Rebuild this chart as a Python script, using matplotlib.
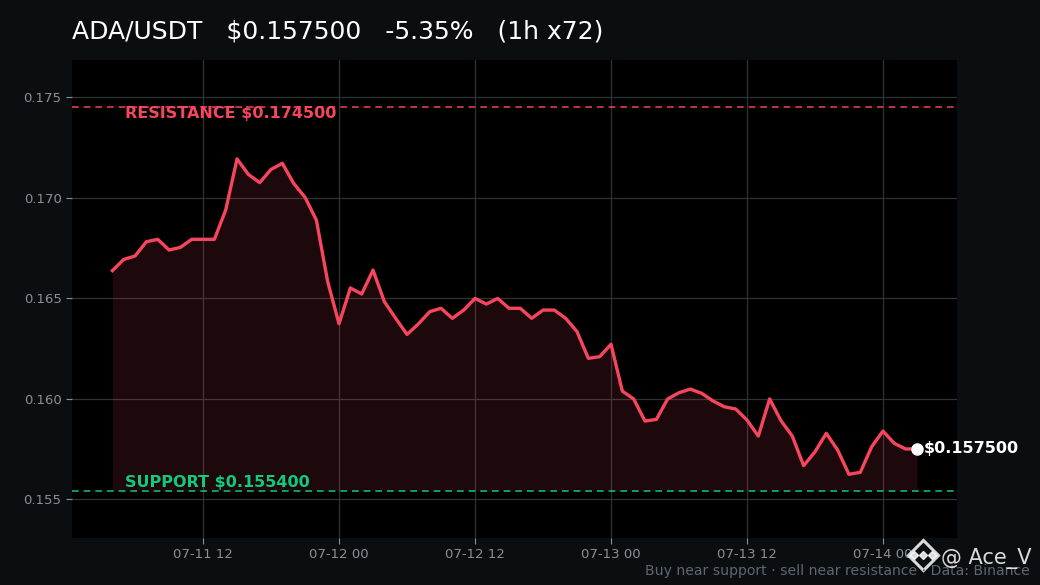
import matplotlib
matplotlib.use("Agg")
import matplotlib.pyplot as plt
import matplotlib.dates as mdates
import matplotlib.transforms as mtransforms
import pandas as pd

#--- data

symbol = 'ADA/USDT'
interval = '1h'
start = '2025-07-11 04:00'
prices = [
    0.16636, 0.16692, 0.16709, 0.16780, 0.16792, 0.16739, 0.16752, 0.16792,
    0.16792, 0.16792, 0.16938, 0.17192, 0.17115, 0.17074, 0.17140, 0.17170,
    0.17070, 0.17001, 0.16888, 0.16581, 0.16372, 0.16550, 0.16520, 0.16639,
    0.16482, 0.16399, 0.16319, 0.16371, 0.16432, 0.16449, 0.16399, 0.16440,
    0.16498, 0.16470, 0.16498, 0.16449, 0.16449, 0.16399, 0.16440, 0.16440,
    0.16399, 0.16333, 0.16200, 0.16208, 0.16270, 0.16037, 0.15998, 0.15888,
    0.15896, 0.15998, 0.16029, 0.16047, 0.16026, 0.15988, 0.15959, 0.15948,
    0.15893, 0.15813, 0.15998, 0.15890, 0.15813, 0.15666, 0.15735, 0.15827,
    0.15744, 0.15623, 0.15633, 0.15760, 0.15838, 0.15777, 0.15749, 0.15750,
]
resistance = 0.1745
support = 0.1554
last_price = 0.1575
change_pct = -5.35
footer = 'Buy near support · sell near resistance · Data: Binance'
watermark = '@ Ace_V'

#--- style

BG = '#0b0e11'
RED = '#f6465d'
GREEN = '#0ecb81'
GRID = '#2f3336'
TICK = '#8a8f98'

times = pd.date_range( start, periods=len(prices), freq='h' )

fig = plt.figure( figsize=(10.4, 5.85), dpi=100, facecolor=BG )
ax = fig.add_axes( [0.0692, 0.0803, 0.8510, 0.8171] )
ax.set_facecolor( '#000000' )

ax.fill_between( times, prices, support, color=RED, alpha=0.12, linewidth=0 )
ax.plot( times, prices, color=RED, linewidth=2.4, solid_joinstyle='round', zorder=3 )

ax.axhline( resistance, color=RED, linestyle=(0, (4, 3)), linewidth=1.2, alpha=0.9 )
ax.axhline( support, color=GREEN, linestyle=(0, (4, 3)), linewidth=1.2, alpha=0.9 )

trans = mtransforms.blended_transform_factory( ax.transAxes, ax.transData )
ax.text( 0.06, resistance + 0.00006, f'RESISTANCE ${resistance:.6f}', transform=trans,
         color=RED, fontsize=11.5, fontweight='bold', va='top', ha='left' )
ax.text( 0.06, support + 0.00006, f'SUPPORT ${support:.6f}', transform=trans,
         color=GREEN, fontsize=11.5, fontweight='bold', va='bottom', ha='left' )

# last price marker
ax.plot( times[-1], prices[-1], 'o', color='white', markersize=8, zorder=4 )
ax.annotate( f'${last_price:.6f}', ( times[-1], prices[-1] ), xytext=(5, 0),
             textcoords='offset points', color='white', fontsize=11.5,
             fontweight='bold', va='center', ha='left', zorder=5 )

ax.set_xlim( pd.Timestamp('2025-07-11 00:26'), pd.Timestamp('2025-07-14 06:32') )
ax.set_ylim( 0.15306, 0.17684 )
ax.yaxis.set_major_locator( plt.MultipleLocator( 0.005 ) )
ax.yaxis.set_major_formatter( plt.FormatStrFormatter( '%.3f' ) )
ax.xaxis.set_major_locator( mdates.HourLocator( byhour=[0, 12] ) )
ax.xaxis.set_major_formatter( mdates.DateFormatter( '%m-%d %H' ) )

ax.grid( True, color=GRID, linewidth=0.9 )
ax.set_axisbelow( True )
for s in ax.spines.values():
    s.set_visible( False )
ax.tick_params( colors=TICK, labelsize=9.5, length=4, width=0.8 )

fig.text( 0.0692, 0.947, f'{symbol}   ${last_price:.6f}   {change_pct:.2f}%   ({interval} x{len(prices)})',
          color='white', fontsize=18, ha='left', va='center' )

fig.text( 0.990, 0.024, footer, color='#5e6673', fontsize=10.1, ha='right', va='center' )

# watermark with a rough Binance mark
fig.text( 0.905, 0.046, watermark, color='white', alpha=0.85, fontsize=15, ha='left', va='center' )
wx, wy = 0.8875, 0.052
fig.lines.append( plt.Line2D( [wx], [wy], marker='D', markersize=15, markerfacecolor='none',
                              markeredgecolor='white', markeredgewidth=2.2, alpha=0.85,
                              transform=fig.transFigure ) )
for dx, dy in [ (0, 0), (-0.009, 0), (0.009, 0) ]:
    fig.lines.append( plt.Line2D( [wx + dx], [wy + dy], marker='D', markersize=4.5, color='white',
                                  alpha=0.85, transform=fig.transFigure ) )

plt.savefig( 'out.png', dpi=100, facecolor=BG )
